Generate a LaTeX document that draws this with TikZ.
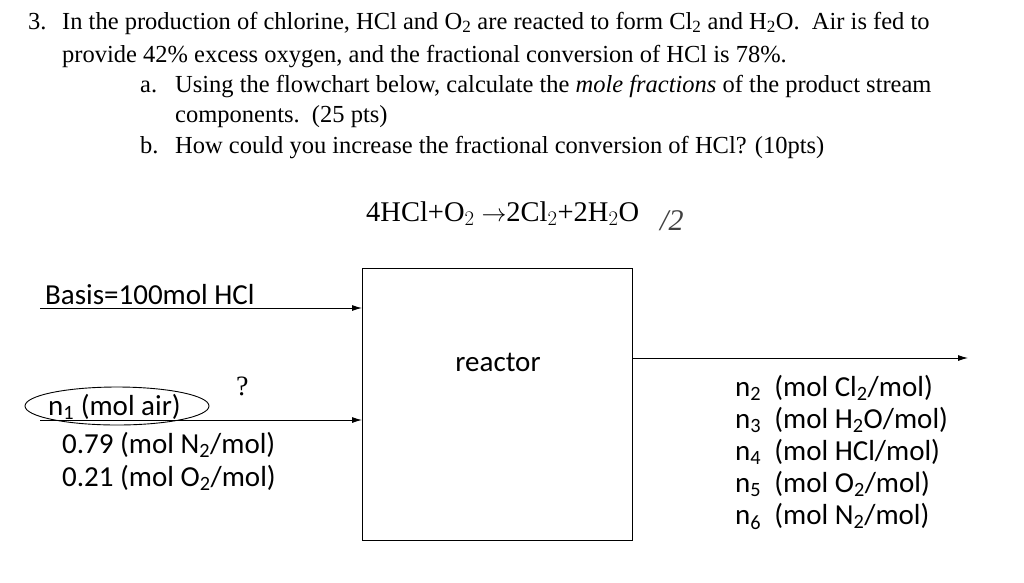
\documentclass[tikz,border=0pt]{standalone}
\usepackage{fontspec}
\setmainfont{Liberation Serif}
\newfontfamily\carl{Carlito}
\usetikzlibrary{arrows.meta}
\begin{document}
\begin{tikzpicture}[x=1pt,y=-1pt,
  ptxt/.style={anchor=base west,inner sep=0,font=\fontsize{24.5}{26}\selectfont},
  stxt/.style={anchor=base west,inner sep=0,font=\carl\fontsize{29}{30}\selectfont},
  flow/.style={-{Latex[length=10pt,width=6pt]},line width=0.9pt}]
\useasboundingbox (0,0) rectangle (1024,582);
\node[ptxt] (q) at (28,29) {3.};
\node[ptxt] (l1) at (62,29) {In the production of chlorine, HCl and O\textsubscript{2} are reacted to form Cl\textsubscript{2} and H\textsubscript{2}O.\ \ Air is fed to};
\node[ptxt] (l2) at (62,62) {provide 42\% excess oxygen, and the fractional conversion of HCl is 78\%.};
\node[ptxt] (a) at (140,92) {a.};
\node[ptxt] (l3) at (175,92) {Using the flowchart below, calculate the \textit{mole fractions} of the product stream};
\node[ptxt] (l4) at (175,122) {components.\ \ (25 pts)};
\node[ptxt] (b) at (140,153) {b.};
\node[ptxt] (l5) at (175,153) {How could you increase the fractional conversion of HCl? (10pts)};
\node[ptxt,font=\fontsize{28.5}{29}\selectfont] (eq) at (366,221) {4HCl+O$_2\rightarrow$2Cl$_2$+2H$_2$O};
\node[anchor=base west,inner sep=0,font=\itshape\fontsize{30}{30}\selectfont,text=black!75] (half) at (660,230) {/2};
\node[draw,line width=0.9pt,minimum width=270pt,minimum height=272pt,inner sep=0,anchor=north west] (r) at (362,268) {};
\node[stxt,anchor=center] (rl) at (498,362) {reactor};
\coordinate (s1) at (40,308);
\coordinate (s2) at (40,420);
\coordinate (o) at (968,358);
\draw[flow] (s1) -- (s1 -| r.west);
\draw[flow] (s2) -- (s2 -| r.west);
\draw[flow] (o -| r.east) -- (o);
\node[stxt] (bas) at (45,304) {Basis=100mol HCl};
\node[stxt] (n1) at (48,415) {n\textsubscript{1} (mol air)};
\draw[line width=0.9pt] (117,406) ellipse (92pt and 19pt);
\node[anchor=base west,inner sep=0,font=\fontsize{28}{28}\selectfont] (qm) at (236,395) {?};
\node[stxt] (n79) at (62,453) {0.79 (mol N\textsubscript{2}/mol)};
\node[stxt] (n21) at (62,486) {0.21 (mol O\textsubscript{2}/mol)};
\node[stxt] (n2) at (735,396) {n\textsubscript{2}\ \ (mol Cl\textsubscript{2}/mol)};
\node[stxt] (n3) at (735,428) {n\textsubscript{3}\ \ (mol H\textsubscript{2}O/mol)};
\node[stxt] (n4) at (735,460) {n\textsubscript{4}\ \ (mol HCl/mol)};
\node[stxt] (n5) at (735,492) {n\textsubscript{5}\ \ (mol O\textsubscript{2}/mol)};
\node[stxt] (n6) at (735,524) {n\textsubscript{6}\ \ (mol N\textsubscript{2}/mol)};
\end{tikzpicture}
\end{document}
